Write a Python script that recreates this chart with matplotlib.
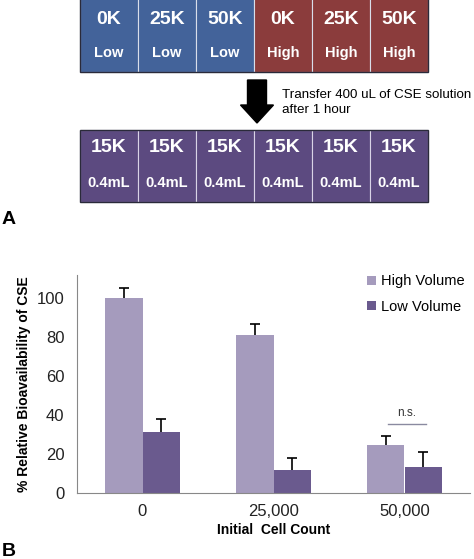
import matplotlib
matplotlib.use("Agg")
import matplotlib.pyplot as plt
from matplotlib.patches import Rectangle, FancyArrow

plt.rcParams['font.family'] = ['Liberation Sans', 'DejaVu Sans']

# Data
groups = ['0', '25,000', '50,000']
high_vals = [100, 81, 24.6]
high_err = [5.5, 5.7, 4.7]
low_vals = [31, 11.9, 13.1]
low_err = [6.9, 5.7, 7.6]

top_counts = ['0K', '25K', '50K', '0K', '25K', '50K']
top_volumes = ['Low', 'Low', 'Low', 'High', 'High', 'High']
bottom_counts = ['15K'] * 6
bottom_volumes = ['0.4mL'] * 6

W, H = 474, 559
fig = plt.figure(figsize=(W / 100, H / 100), dpi=100)

# ---- panel A: plate diagram drawn in pixel coords
dax = fig.add_axes([0, 0, 1, 1])
dax.set_xlim(0, W)
dax.set_ylim(H, 0)
dax.axis('off')

box_x, cell_w = 80, 58
colors_top = ['#43639a'] * 3 + ['#8b3c3c'] * 3
for i in range(6):
    x = box_x + i * cell_w
    dax.add_patch(Rectangle((x, -2), cell_w, 74, facecolor=colors_top[i],
                            edgecolor='#d9deea', lw=0.8))
    dax.text(x + cell_w / 2, 19, top_counts[i], color='white', fontsize=14,
             fontweight='bold', ha='center', va='center')
    dax.text(x + cell_w / 2, 53, top_volumes[i], color='white', fontsize=10.5,
             fontweight='bold', ha='center', va='center')
dax.add_patch(Rectangle((box_x, -2), 6 * cell_w, 74, fill=False,
                        edgecolor='#2a2a3a', lw=1))

for i in range(6):
    x = box_x + i * cell_w
    dax.add_patch(Rectangle((x, 130), cell_w, 72, facecolor='#5c4a80',
                            edgecolor='#d9d3e6', lw=0.8))
    dax.text(x + cell_w / 2, 148, bottom_counts[i], color='white', fontsize=14,
             fontweight='bold', ha='center', va='center')
    dax.text(x + cell_w / 2, 183, bottom_volumes[i], color='white', fontsize=10.5,
             fontweight='bold', ha='center', va='center')
dax.add_patch(Rectangle((box_x, 130), 6 * cell_w, 72, fill=False,
                        edgecolor='#2a2a3a', lw=1))

dax.add_patch(FancyArrow(257, 80, 0, 43, width=19, head_width=33,
                         head_length=18, length_includes_head=True,
                         color='black'))
dax.text(282, 98, 'Transfer 400 uL of CSE solution', fontsize=9.6, va='baseline')
dax.text(282, 113, 'after 1 hour', fontsize=9.6, va='baseline')

fig.text(2 / W, 1 - 220 / H, 'A', fontsize=14, fontweight='bold', va='center')
fig.text(2 / W, 1 - 552 / H, 'B', fontsize=14, fontweight='bold', va='center')

# ---- panel B: bar chart
ax = fig.add_axes([77 / W, (H - 492.7) / H, 393 / W, 217.7 / H])
x = range(len(groups))
w = 0.285
xh = [i - w / 2 for i in x]
xl = [i + w / 2 for i in x]
ax.bar(xh, high_vals, w, color='#a59bbd', label='High Volume')
ax.bar(xl, low_vals, w, color='#6a5a8e', label='Low Volume')

# upper-only error bars
for xs, vals, errs in [(xh, high_vals, high_err), (xl, low_vals, low_err)]:
    eb = ax.errorbar(xs, vals, yerr=[[0] * 3, errs], fmt='none', ecolor='black',
                     elinewidth=1.2, capsize=3.5, capthick=1.2)
    eb[1][0].set_visible(False)

ax.set_xlim(-0.5, 2.5)
ax.set_ylim(0, 112)
ax.set_yticks([0, 20, 40, 60, 80, 100])
ax.set_xticks(list(x))
ax.set_xticklabels(groups)
ax.tick_params(length=0, labelsize=12, colors='#222222')
ax.tick_params(axis='x', pad=8)
ax.tick_params(axis='y', pad=9)
for s in ['top', 'right']:
    ax.spines[s].set_visible(False)
for s in ['left', 'bottom']:
    ax.spines[s].set_color('#888888')
ax.set_ylabel('% Relative Bioavailability of CSE', fontsize=10,
              fontweight='bold', labelpad=4)
ax.set_xlabel('Initial  Cell Count', fontsize=10, fontweight='bold', labelpad=3)

# n.s. bracket over 50,000 group
ax.plot([xh[2] + 0.02, xl[2] + 0.02], [35.3, 35.3], color='#8a8aa0', lw=1)
ax.text(2.02, 38, 'n.s.', ha='center', va='bottom', fontsize=8.5, color='#333333')

ax.legend(loc='upper right', bbox_to_anchor=(1.0, 1.03), frameon=False,
          fontsize=10.5, handlelength=0.6, handleheight=0.6, handletextpad=0.3,
          labelspacing=0.8, borderaxespad=0)

fig.savefig('out.png', dpi=100)
